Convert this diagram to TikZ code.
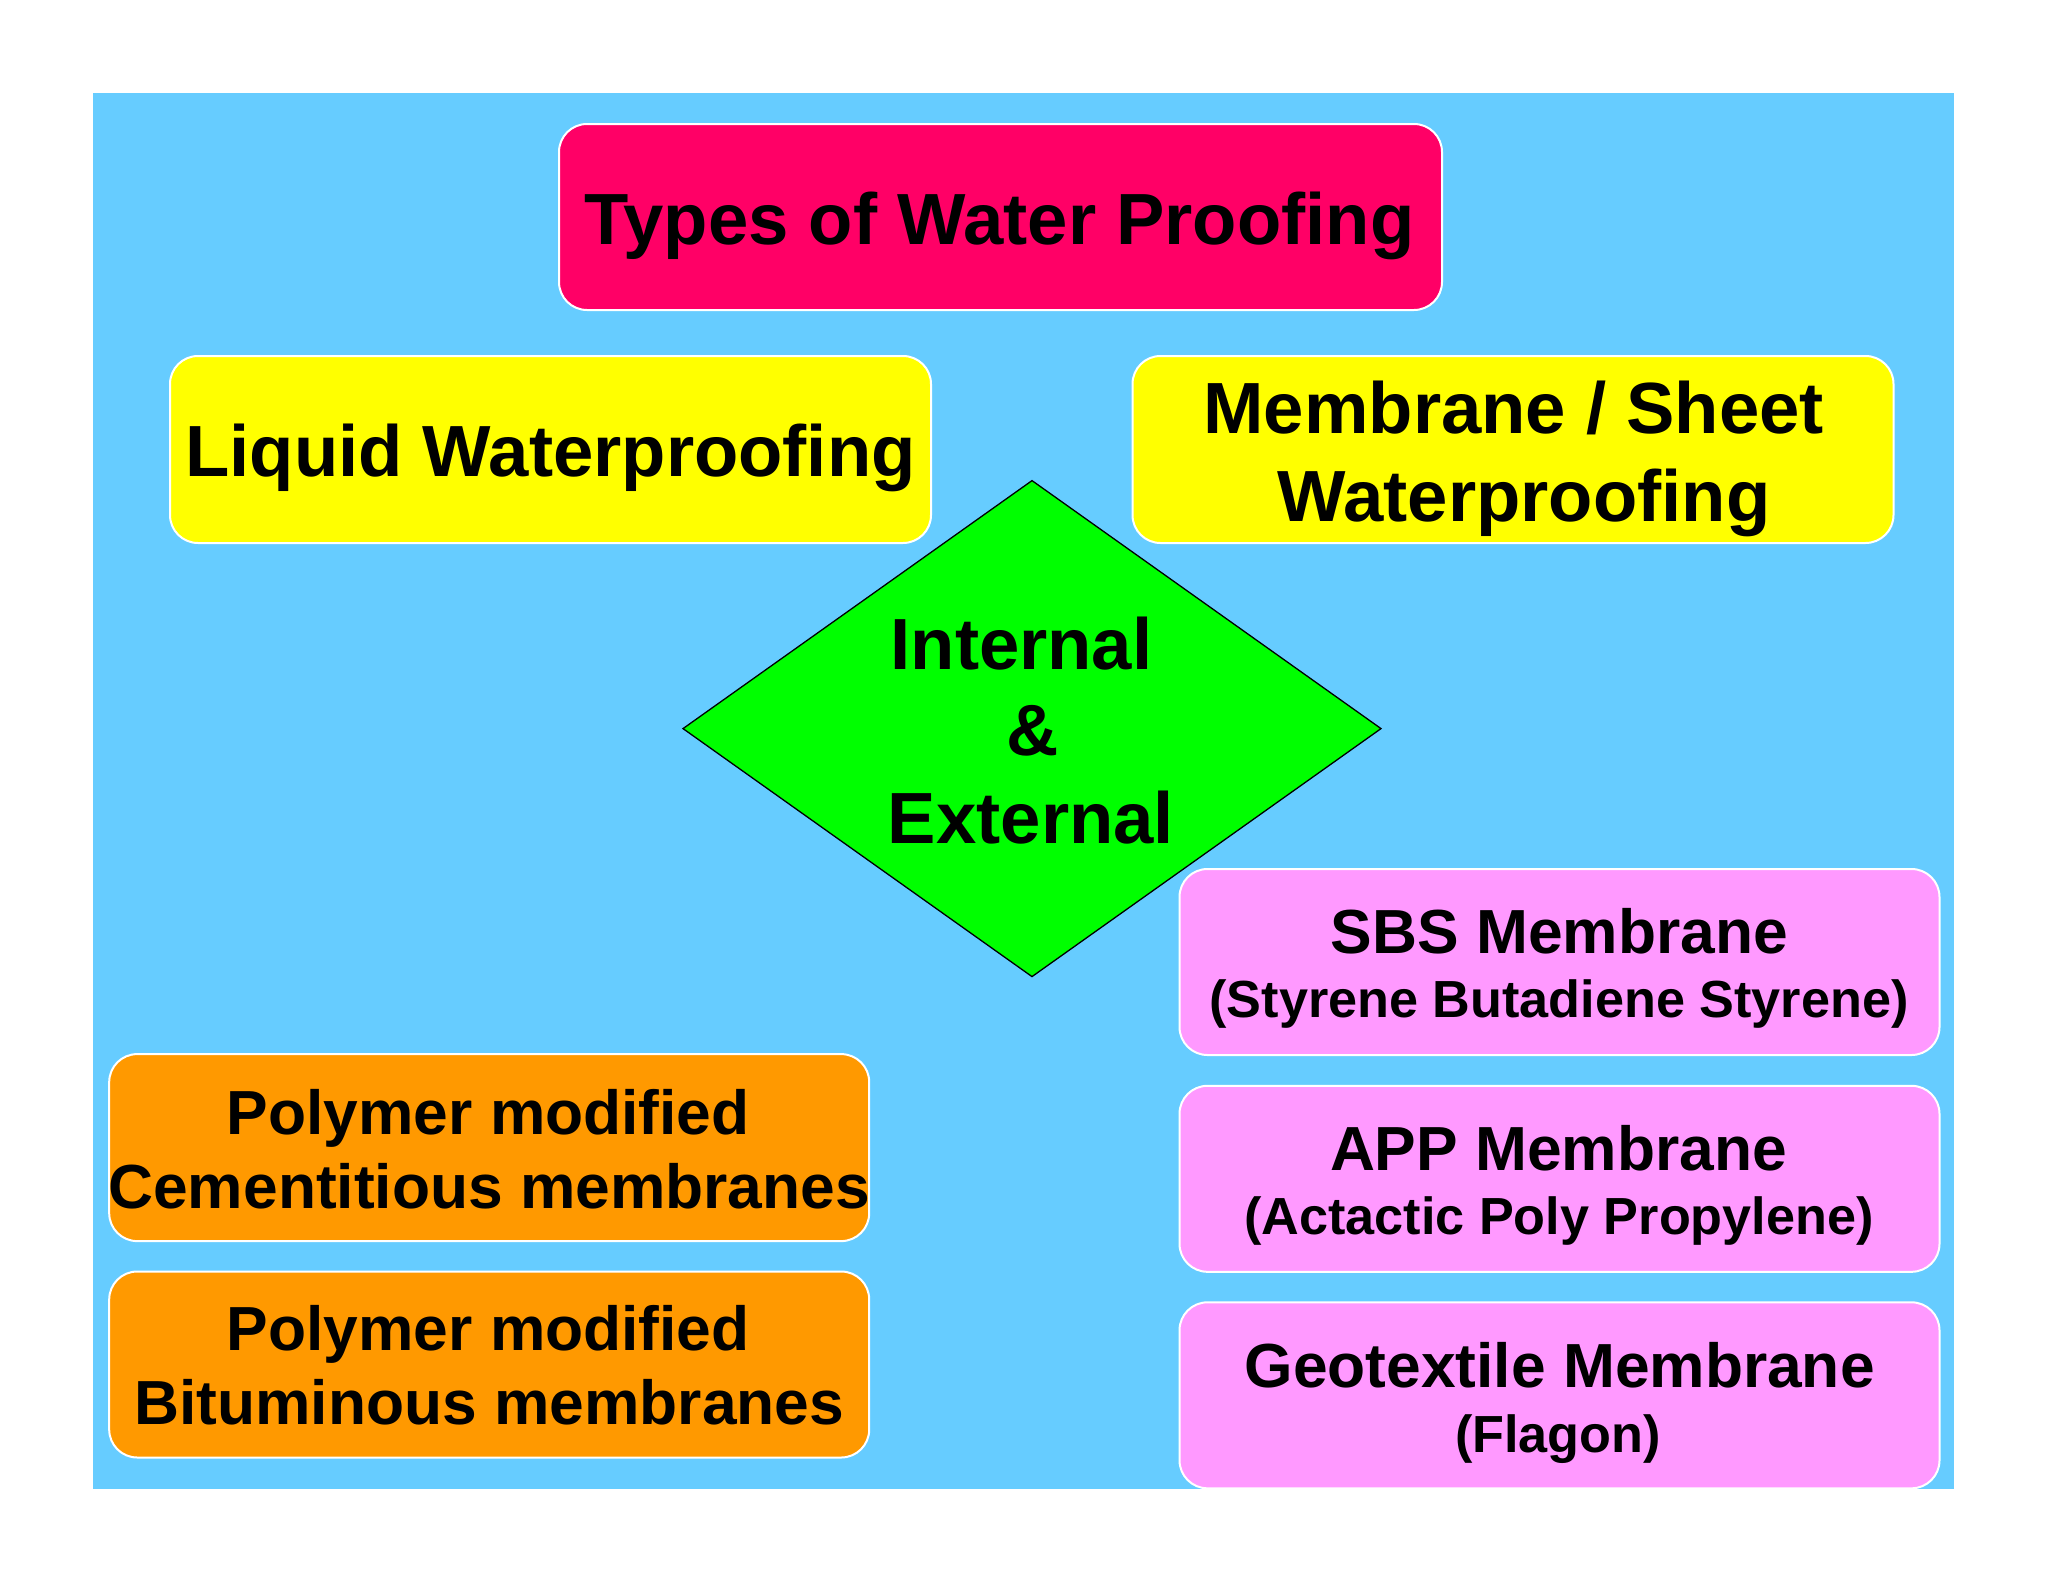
\documentclass[tikz,border=0pt]{standalone}
\usepackage{fontspec}
\setmainfont{Liberation Sans}
\usetikzlibrary{shapes.geometric}
\definecolor{bgblue}{HTML}{66CCFF}
\definecolor{titlered}{HTML}{FF0066}
\definecolor{boxyellow}{HTML}{FFFF00}
\definecolor{diagreen}{HTML}{00FF00}
\definecolor{boxorange}{HTML}{FF9900}
\definecolor{boxpink}{HTML}{FF99FF}
\tikzset{
  rbox/.style={rectangle, rounded corners=28pt, draw=white, line width=2pt, inner sep=0pt},
  bigtxt/.style={anchor=base, inner sep=0pt, text=black, font=\fontsize{72.5}{87}\selectfont\bfseries},
  midtxt/.style={anchor=base, inner sep=0pt, text=black, font=\fontsize{62.3}{75}\selectfont\bfseries},
  smalltxt/.style={anchor=base, inner sep=0pt, text=black, font=\fontsize{52.2}{63}\selectfont\bfseries}
}
\begin{document}
\begin{tikzpicture}[x=1pt,y=-1pt]
\useasboundingbox (0,0) rectangle (2048,1582);
\fill[white] (0,0) rectangle (2048,1582);
\fill[bgblue] (92.7,92.8) rectangle (1954,1489);
% boxes
\node[rbox, fill=titlered, minimum width=883pt, minimum height=186pt] (title) at (1000.5,217) {};
\node[rbox, fill=boxyellow, minimum width=761pt, minimum height=187pt] (liquid) at (550.5,449.5) {};
\node[rbox, fill=boxyellow, minimum width=761pt, minimum height=187pt] (sheet) at (1513,449.5) {};
\node[diamond, draw=black, line width=1.3pt, fill=diagreen, inner sep=0pt, outer sep=0pt, minimum width=698pt, minimum height=496pt] (dia) at (1032,728.6) {};
\node[rbox, fill=boxpink, minimum width=760pt, minimum height=186pt] (sbs) at (1559.5,962) {};
\node[rbox, fill=boxpink, minimum width=760pt, minimum height=186pt] (app) at (1559.5,1178.8) {};
\node[rbox, fill=boxpink, minimum width=760pt, minimum height=186pt] (geo) at (1559.5,1395.3) {};
\node[rbox, fill=boxorange, minimum width=760pt, minimum height=187pt] (cem) at (489.2,1147.6) {};
\node[rbox, fill=boxorange, minimum width=760pt, minimum height=186pt] (bit) at (489.2,1364.5) {};
% texts
\node[bigtxt] (t-title) at (999.5,244.3) {Types of Water Proofing};
\node[bigtxt] (t-liquid) at (550.5,476.7) {Liquid Waterproofing};
\node[bigtxt] (t-sheet1) at (1513.8,433.3) {Membrane / Sheet};
\node[bigtxt] (t-sheet2) at (1524,521) {Waterproofing};
\node[bigtxt] (t-int) at (1021.5,669) {Internal};
\node[bigtxt] (t-amp) at (1032.6,755.5) {\&};
\node[bigtxt] (t-ext) at (1031,843) {External};
\node[midtxt] (t-sbs1) at (1559.3,953.3) {SBS Membrane};
\node[smalltxt] (t-sbs2) at (1559,1017.3) {(Styrene Butadiene Styrene)};
\node[midtxt] (t-app1) at (1558.5,1170) {APP Membrane};
\node[smalltxt] (t-app2) at (1559,1234) {(Actactic Poly Propylene)};
\node[midtxt] (t-geo1) at (1559.7,1387.3) {Geotextile Membrane};
\node[smalltxt] (t-geo2) at (1558,1452.7) {(Flagon)};
\node[midtxt] (t-cem1) at (488.3,1134) {Polymer modified};
\node[midtxt] (t-cem2) at (489.2,1208.3) {Cementitious membranes};
\node[midtxt] (t-bit1) at (488.3,1350) {Polymer modified};
\node[midtxt] (t-bit2) at (489.3,1424.3) {Bituminous membranes};
\end{tikzpicture}
\end{document}
